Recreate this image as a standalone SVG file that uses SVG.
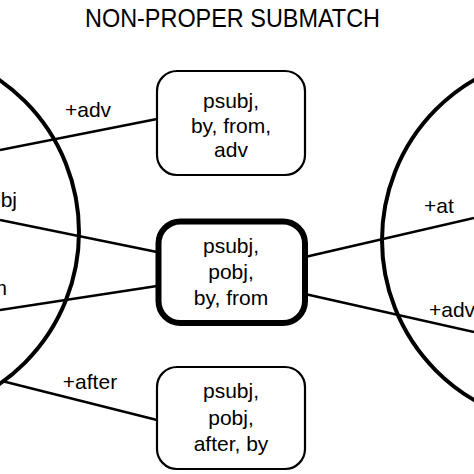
<svg xmlns="http://www.w3.org/2000/svg" width="474" height="474" viewBox="0 0 474 474">
<style>
text{font-family:"Liberation Sans",Arial,Helvetica,sans-serif;font-size:21px;fill:#000}
.box{fill:#fff;stroke:#000;stroke-width:2.2}
.thick{fill:#fff;stroke:#000;stroke-width:6}
.circ{fill:none;stroke:#000;stroke-width:4}
.edge{stroke:#000;stroke-width:2.5;fill:none}
.c{text-anchor:middle}
</style>
<rect width="474" height="474" fill="#fff"/>
<text x="232.5" y="27" class="c" style="font-size:26px" textLength="295" lengthAdjust="spacingAndGlyphs">NON-PROPER SUBMATCH</text>
<g id="left-node"><circle class="circ" cx="-106" cy="232" r="185"/></g>
<g id="right-node"><circle class="circ" cx="567" cy="240" r="185"/></g>
<g id="connectors">
<line class="edge" x1="0" y1="150" x2="157" y2="119"/>
<line class="edge" x1="0" y1="220" x2="157" y2="252"/>
<line class="edge" x1="0" y1="310" x2="157" y2="286"/>
<line class="edge" x1="2" y1="381" x2="157" y2="420"/>
<line class="edge" x1="305" y1="257" x2="474" y2="218"/>
<line class="edge" x1="305" y1="294" x2="474" y2="332"/>
<text x="88" y="117" class="c">+adv</text>
<text x="17" y="207" text-anchor="end">+pobj</text>
<text x="7" y="295" text-anchor="end">+from</text>
<text x="90" y="389" class="c">+after</text>
<text x="439" y="213" class="c">+at</text>
<text x="429" y="317">+adv</text>
</g>
<g id="box-top">
<rect class="box" x="157" y="71" width="148" height="104" rx="20"/>
<text x="231" y="108" class="c">psubj,</text>
<text x="231" y="133" class="c">by, from,</text>
<text x="231" y="157" class="c">adv</text>
</g>
<g id="box-center">
<rect class="thick" x="158.5" y="221.5" width="146.5" height="101.5" rx="22"/>
<text x="231" y="253" class="c">psubj,</text>
<text x="231" y="279" class="c">pobj,</text>
<text x="231" y="305" class="c">by, from</text>
</g>
<g id="box-bottom">
<rect class="box" x="157" y="367" width="148" height="102" rx="20"/>
<text x="231" y="398" class="c">psubj,</text>
<text x="231" y="425" class="c">pobj,</text>
<text x="231" y="451" class="c">after, by</text>
</g>
</svg>
